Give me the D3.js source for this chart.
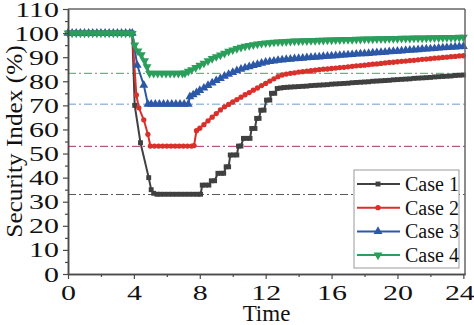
<!DOCTYPE html>
<html>
<head>
<meta charset="utf-8">
<script src="https://cdn.jsdelivr.net/npm/d3@7"></script>
<style>
  html, body { margin: 0; padding: 0; background: #fff; }
  svg { display: block; }
  text { font-family: "Liberation Serif", "DejaVu Serif", serif; fill: #111; }
</style>
</head>
<body>
<svg id="chart" width="474" height="325"></svg>
<script>
// Security index (%) over time for four outage cases, as [time, value] pairs.
const case1 = [
  [0,100],[0.25,100],[0.5,100],[0.75,100],[1,100],[1.25,100],[1.5,100],[1.75,100],
  [2,100],[2.25,100],[2.5,100],[2.75,100],[3,100],[3.25,100],[3.5,100],[3.75,100],
  [3.9,100],[4.05,70],[4.4,54.5],[4.9,40],[5.05,35],[5.2,33.5],[5.4,33.1],
  [5.6,33.1],[5.85,33.1],[6.1,33.1],[6.35,33.1],[6.6,33.1],[6.85,33.1],[7.1,33.1],
  [7.35,33.1],[7.6,33.1],[7.85,33.1],[8.05,33.1],
  [8.15,36.9],[8.35,36.9],[8.55,36.9],
  [8.7,38.7],[8.9,38.7],
  [9.1,41.8],[9.3,41.8],[9.45,41.8],
  [9.6,44.5],[9.75,44.5],
  [9.85,49.4],[10.05,49.4],[10.25,49.4],
  [10.35,53.1],[10.5,53.1],
  [10.65,56.3],[10.85,56.3],[11.05,56.3],
  [11.15,60.4],[11.35,60.4],
  [11.45,64.6],[11.6,64.6],
  [11.7,68],[11.9,68],
  [12.05,72.2],[12.25,72.2],
  [12.35,75],[12.55,75],
  [12.7,77],[12.9,77.2],[13.1,77.4],[13.3,77.5],[13.5,77.6],[13.75,77.7],
  [14,77.8],[14.25,77.9],[14.5,78.0],[14.75,78.2],[15,78.3],[15.25,78.4],[15.5,78.5],
  [15.75,78.6],[16,78.8],[16.25,78.9],[16.5,79.0],[16.75,79.1],[17,79.2],[17.25,79.4],
  [17.5,79.5],[17.75,79.6],[18,79.7],[18.25,79.8],[18.5,80.0],[18.75,80.1],[19,80.2],
  [19.25,80.3],[19.5,80.4],[19.75,80.6],[20,80.7],[20.25,80.8],[20.5,80.9],[20.75,81.0],
  [21,81.2],[21.25,81.3],[21.5,81.4],[21.75,81.5],[22,81.6],[22.25,81.8],[22.5,81.9],
  [22.75,82.0],[23,82.1],[23.25,82.2],[23.5,82.4],[23.75,82.5],[24,82.6]
];

const case2 = [
  [0,100],[0.25,100],[0.5,100],[0.75,100],[1,100],[1.25,100],[1.5,100],[1.75,100],
  [2,100],[2.25,100],[2.5,100],[2.75,100],[3,100],[3.25,100],[3.5,100],[3.75,100],
  [3.9,100],[4.15,74.3],[4.3,69],[4.6,64],[4.85,58],[5.0,53.1],
  [5.25,53.1],[5.5,53.1],[5.75,53.1],[6,53.1],[6.25,53.1],[6.5,53.1],[6.75,53.1],
  [7,53.1],[7.25,53.1],[7.5,53.1],[7.65,53.3],
  [7.8,59.5],[8,60.5],[8.25,62.0],[8.5,63.6],[8.75,65.1],[9,66.6],[9.25,68.1],
  [9.5,69.4],[9.75,70.4],[10,71.4],[10.25,72.4],[10.5,73.4],[10.75,74.4],[11,75.3],
  [11.25,76.3],[11.5,77.2],[11.75,78.2],[12,79.1],[12.25,80.1],[12.5,81.0],[12.75,81.9],
  [13,82.6],[13.25,83.0],[13.5,83.3],[13.75,83.5],[14,83.8],[14.25,84.0],[14.5,84.2],
  [14.75,84.4],[15,84.6],[15.25,84.8],[15.5,85.0],[15.75,85.1],[16,85.3],[16.25,85.5],
  [16.5,85.7],[16.75,85.8],[17,86.0],[17.25,86.2],[17.5,86.4],[17.75,86.5],[18,86.7],
  [18.25,86.9],[18.5,87.1],[18.75,87.2],[19,87.4],[19.25,87.6],[19.5,87.8],[19.75,87.9],
  [20,88.1],[20.25,88.3],[20.5,88.4],[20.75,88.6],[21,88.7],[21.25,88.9],[21.5,89.1],
  [21.75,89.2],[22,89.4],[22.25,89.6],[22.5,89.7],[22.75,89.9],[23,90.0],[23.25,90.2],
  [23.5,90.3],[23.75,90.5],[24,90.6]
];

const case3 = [
  [0,100],[0.25,100],[0.5,100],[0.75,100],[1,100],[1.25,100],[1.5,100],[1.75,100],
  [2,100],[2.25,100],[2.5,100],[2.75,100],[3,100],[3.25,100],[3.5,100],[3.75,100],
  [3.9,100],[4.2,86.7],[4.6,78.4],[4.85,70.5],
  [5.05,70.5],[5.3,70.5],[5.55,70.5],[5.8,70.5],[6.05,70.5],[6.3,70.5],[6.55,70.5],
  [6.8,70.5],[7.05,70.5],[7.3,70.5],
  [7.4,73.6],[7.6,74.4],[7.8,75.3],[8,76.2],[8.25,77.2],[8.5,78.3],[8.75,79.3],
  [9,80.3],[9.25,81.2],[9.5,82.1],[9.75,82.9],[10,83.7],[10.25,84.4],[10.5,85.0],
  [10.75,85.6],[11,86.1],[11.25,86.6],[11.5,87.0],[11.75,87.5],[12,87.9],[12.25,88.2],
  [12.5,88.4],[12.75,88.7],[13,88.9],[13.25,89.1],[13.5,89.2],[13.75,89.4],[14,89.5],
  [14.25,89.6],[14.5,89.8],[14.75,89.9],[15,90.0],[15.25,90.1],[15.5,90.3],[15.75,90.4],
  [16,90.5],[16.25,90.6],[16.5,90.8],[16.75,90.9],[17,91.0],[17.25,91.1],[17.5,91.3],
  [17.75,91.4],[18,91.5],[18.25,91.6],[18.5,91.8],[18.75,91.9],[19,92.0],[19.25,92.1],
  [19.5,92.3],[19.75,92.4],[20,92.5],[20.25,92.6],[20.5,92.8],[20.75,92.9],[21,93.0],
  [21.25,93.1],[21.5,93.3],[21.75,93.4],[22,93.5],[22.25,93.6],[22.5,93.8],[22.75,93.9],
  [23,94.0],[23.25,94.1],[23.5,94.3],[23.75,94.4],[24,94.5]
];

const case4 = [
  [0,100],[0.25,100],[0.5,100],[0.75,100],[1,100],[1.25,100],[1.5,100],[1.75,100],
  [2,100],[2.25,100],[2.5,100],[2.75,100],[3,100],[3.25,100],[3.5,100],[3.75,100],
  [3.9,99.8],[4.05,95],[4.25,92.5],[4.45,91],[4.65,88.5],[4.8,86],[4.95,83.3],
  [5.2,83.3],[5.45,83.3],[5.7,83.3],[5.95,83.3],[6.2,83.3],[6.45,83.3],[6.7,83.3],
  [6.95,83.3],[7.1,83.4],
  [7.3,84.1],[7.5,84.8],[7.75,85.7],[8,86.6],[8.25,87.5],[8.5,88.5],[8.75,89.4],
  [9,90.2],[9.25,90.9],[9.5,91.6],[9.75,92.4],[10,93.0],[10.25,93.6],[10.5,94.1],
  [10.75,94.5],[11,94.8],[11.25,95.1],[11.5,95.4],[11.75,95.7],[12,95.9],[12.25,96.0],
  [12.5,96.2],[12.75,96.3],[13,96.4],[13.25,96.5],[13.5,96.6],[13.75,96.7],[14,96.7],
  [14.25,96.8],[14.5,96.8],[14.75,96.9],[15,96.9],[15.25,97.0],[15.5,97.0],[15.75,97.1],
  [16,97.1],[16.25,97.2],[16.5,97.2],[16.75,97.3],[17,97.3],[17.25,97.3],[17.5,97.4],
  [17.75,97.4],[18,97.5],[18.25,97.5],[18.5,97.5],[18.75,97.6],[19,97.6],[19.25,97.6],
  [19.5,97.7],[19.75,97.7],[20,97.7],[20.25,97.8],[20.5,97.8],[20.75,97.8],[21,97.9],
  [21.25,97.9],[21.5,97.9],[21.75,97.9],[22,98.0],[22.25,98.0],[22.5,98.0],[22.75,98.1],
  [23,98.1],[23.25,98.1],[23.5,98.1],[23.75,98.2],[24,98.2]
];

const seriesNames = ["Case 1", "Case 2", "Case 3", "Case 4"];
const seriesData = [case1, case2, case3, case4];
const seriesColors = ["#404040", "#d9302b", "#2c58a8", "#2a9e5b"];
const seriesSymbols = [d3.symbolSquare, d3.symbolCircle, d3.symbolTriangle, d3.symbolTriangle];

// Minimum security level reached in each case (horizontal guides)
const floorLevels = [33, 53, 70.5, 83.3];
const floorColors = ["#5a5a5a", "#a3306b", "#6b9bd2", "#4aa06c"];

const xTicks = [0, 4, 8, 12, 16, 20, 24];
const xMinorTicks = [2, 6, 10, 14, 18, 22];
const yTicks = [0, 10, 20, 30, 40, 50, 60, 70, 80, 90, 100, 110];
const yMinorTicks = [5, 15, 25, 35, 45, 55, 65, 75, 85, 95, 105];

const svg = d3.select("#chart");
const margin = { left: 68, right: 9, top: 9, bottom: 51 };
const W = 474, H = 325;

const x = d3.scaleLinear().domain([0, 24.1]).range([margin.left, W - margin.right]);
const y = d3.scaleLinear().domain([0, 110]).range([H - margin.bottom, margin.top]);

const axisColor = "#4a4a4a";

// Guides
const guides = svg.append("g");
floorLevels.forEach((lv, i) => {
  guides.append("line")
    .attr("x1", x(0)).attr("x2", x(24.1))
    .attr("y1", y(lv)).attr("y2", y(lv))
    .attr("stroke", floorColors[i]).attr("stroke-width", 1)
    .attr("stroke-dasharray", "8,3,2,3");
});

// Series
const line = d3.line().x(d => x(d[0])).y(d => y(d[1]));
const markerSize = [24, 22, 34, 34];
seriesData.forEach((data, i) => {
  const g = svg.append("g");
  g.append("path").datum(data)
    .attr("fill", "none").attr("stroke", seriesColors[i]).attr("stroke-width", 2)
    .attr("d", line);
  const sym = d3.symbol().type(seriesSymbols[i]).size(markerSize[i]);
  g.selectAll("path.m").data(data).enter().append("path")
    .attr("class", "m")
    .attr("d", sym)
    .attr("fill", seriesColors[i])
    .attr("transform", d => `translate(${x(d[0])},${y(d[1])})${i === 3 ? " rotate(180)" : ""}`);
});

// Frame
svg.append("line").attr("x1", x(0)).attr("x2", x(24.1)).attr("y1", y(110)).attr("y2", y(110))
  .attr("stroke", "#666").attr("stroke-width", 1.5);
svg.append("line").attr("x1", x(24.1)).attr("x2", x(24.1)).attr("y1", y(110)).attr("y2", y(0))
  .attr("stroke", "#666").attr("stroke-width", 1.5);

// Axes
svg.append("g").attr("class", "xaxis").attr("transform", `translate(0,${y(0)})`)
  .call(d3.axisBottom(x).tickValues(xTicks).tickSize(5).tickSizeOuter(0).tickPadding(5));
svg.append("g").attr("transform", `translate(0,${y(0)})`)
  .call(d3.axisBottom(x).tickValues(xMinorTicks).tickSize(3).tickSizeOuter(0).tickFormat(""));
svg.append("g").attr("class", "yaxis").attr("transform", `translate(${x(0)},0)`)
  .call(d3.axisLeft(y).tickValues(yTicks).tickSize(5).tickSizeOuter(0).tickPadding(4));
svg.append("g").attr("transform", `translate(${x(0)},0)`)
  .call(d3.axisLeft(y).tickValues(yMinorTicks).tickSize(3).tickSizeOuter(0).tickFormat(""));

svg.selectAll(".domain").attr("stroke", axisColor).attr("stroke-width", 1.5);
svg.selectAll(".tick line").attr("stroke", axisColor).attr("stroke-width", 1.2);
svg.selectAll(".tick text")
  .style("font-family", '"Liberation Serif", serif')
  .style("font-size", "22px").attr("fill", "#111");

// Tick numerals are set wide
const numeralStretch = 1.36;
svg.selectAll(".xaxis .tick text").attr("transform", `scale(${numeralStretch},1)`);
// keep the last numeral inside the canvas
svg.selectAll(".xaxis .tick").filter(d => d === 24).select("text")
  .attr("transform", `translate(-4,0) scale(${numeralStretch},1)`);
svg.selectAll(".yaxis .tick text")
  .attr("x", 0)
  .attr("transform", `translate(-9,0) scale(${numeralStretch},1)`);

// Axis titles
svg.append("text").attr("x", (x(0) + x(24.1)) / 2).attr("y", 321)
  .attr("text-anchor", "middle").style("font-size", "23px").text("Time");
svg.append("text").attr("transform", `translate(22,${(y(0) + y(110)) / 2}) rotate(-90) scale(1.1,1)`)
  .attr("text-anchor", "middle").style("font-size", "23px").text("Security Index (%)");

// Legend
const lg = svg.append("g");
lg.append("rect").attr("x", 354).attr("y", 170).attr("width", 105).attr("height", 98)
  .attr("fill", "#fff").attr("stroke", "#999").attr("stroke-width", 1);
seriesNames.forEach((name, i) => {
  const cy = 184 + i * 23.7;
  lg.append("line").attr("x1", 357).attr("x2", 400).attr("y1", cy).attr("y2", cy)
    .attr("stroke", seriesColors[i]).attr("stroke-width", 2);
  lg.append("path").attr("d", d3.symbol().type(seriesSymbols[i]).size(markerSize[i])())
    .attr("fill", seriesColors[i])
    .attr("transform", `translate(378,${cy})${i === 3 ? " rotate(180)" : ""}`);
  lg.append("text").attr("x", 405).attr("y", cy + 7)
    .style("font-size", "20px").text(name);
});
</script>
</body>
</html>
